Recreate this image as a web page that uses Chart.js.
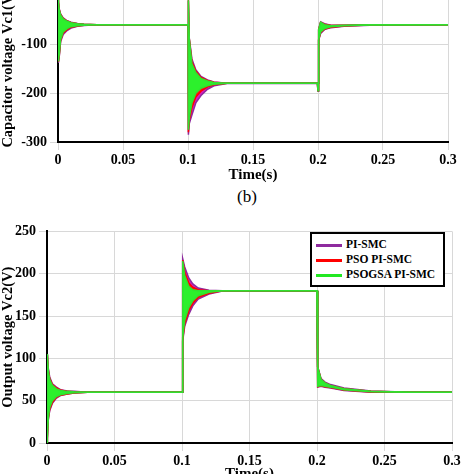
<!DOCTYPE html>
<html><head><meta charset="utf-8">
<script src="https://cdn.jsdelivr.net/npm/chart.js"></script>
<style>
body{margin:0;width:474px;height:474px;overflow:hidden;background:#fff;position:relative;font-family:"Liberation Serif",serif}
canvas{position:absolute;left:0}
#legend{position:absolute;left:310px;top:232px;width:131px;border:2px solid #000;background:#fff;font-weight:bold;font-size:11.5px;padding:3px 0}
#legend div{height:15px;line-height:15px;white-space:nowrap}
#legend span{display:inline-block;width:26px;height:3px;vertical-align:middle;margin:0 4px 0 4px}
#b{position:absolute;left:0;width:494px;text-align:center;top:187px;font-size:17px}
</style></head><body>
<canvas id="c1" width="474" height="200" style="top:-16px;width:474px;height:200px"></canvas>
<canvas id="c2" width="474" height="263" style="top:220px;width:474px;height:263px"></canvas>
<div id="b">(b)</div>
<div id="legend">
<div><span style="background:#8e2a9e"></span>PI-SMC</div>
<div><span style="background:#ff0000"></span>PSO PI-SMC</div>
<div><span style="background:#22e822"></span>PSOGSA PI-SMC</div>
</div>
<script>
const seriesNames=["PI-SMC","PSO PI-SMC","PSOGSA PI-SMC"];
const xTickLabels=["0","0.05","0.1","0.15","0.2","0.25","0.3"];
// top chart (capacitor voltage)
const tA=[0,0.0003,0.001,0.002,0.004,0.007,0.01,0.015,0.02,0.03,0.0995,0.1,0.1003,0.101,0.103,0.106,0.11,0.115,0.12,0.13,0.1995,0.2,0.2005,0.202,0.205,0.21,0.22,0.24,0.3];
const aPurpleUp=[0,-12,-28,-38,-46,-52,-55,-57.5,-59,-60,-60,-60,-10,-88,-130,-152,-166,-173,-177,-180,-180,-180,-70,-54,-58,-61,-61,-60,-60];
const aPurpleLo=[0,-138,-125,-95,-80,-72,-67,-63,-61.5,-60,-60,-60,-285,-262,-245,-220,-205,-192,-185,-180.5,-180,-196,-92,-78,-70,-66,-63,-61,-60];
const aRedUp=[0,-14,-29,-39,-47,-52.5,-55.5,-58,-59,-60,-60,-60,-10,-89,-136,-155,-168,-174,-177.5,-180,-180,-180,-70,-55,-59,-61.5,-61,-60,-60];
const aRedLo=[0,-136,-122,-92,-77,-70,-65,-62.5,-61,-60,-60,-60,-280,-255,-230,-208,-196,-187,-183,-180,-180,-195,-91,-76,-69,-65,-62.5,-60.5,-60];
const aGreenUp=[0,-15,-30,-40,-48,-53,-56,-58,-59,-60,-60,-60,-10,-90,-140,-158,-170,-175,-178,-180,-180,-180,-70,-55,-60,-62,-61,-60,-60];
const aGreenLo=[0,-135,-120,-90,-75,-68,-64,-62,-61,-60,-60,-60,-275,-250,-220,-200,-190,-185,-182,-180,-180,-195,-90,-75,-68,-64,-62,-60.5,-60];
// bottom chart (output voltage)
const tB=[0,0.0003,0.001,0.002,0.004,0.007,0.01,0.015,0.02,0.03,0.0995,0.1,0.1005,0.102,0.105,0.108,0.112,0.12,0.13,0.1995,0.2,0.2005,0.203,0.206,0.21,0.22,0.24,0.27,0.3];
const bPurpleUp=[0,105,88,78,70,66,63,61.5,61,60,60,60,218,208,195,188,183,180.5,180,180,180,90,76,72,69,65,61.5,60,60];
const bPurpleLo=[0,0,28,38,47,53,56,58,59,60,60,60,120,138,152,162,170,176,179.5,180,180,66,67,66,65,62,60,60,60];
const bRedUp=[0,104,86,76,69,65,62.5,61,60.5,60,60,60,216,202,189,184,181,180,180,180,180,90,75,71,68,64,61,60,60];
const bRedLo=[0,0,29,40,48,54,56.5,58,59,60,60,60,122,141,156,165,172,177,180,180,180,66.5,67.5,66.5,65.5,62.5,60.2,60,60];
const bGreenUp=[0,105,85,75,68,64,62,61,60.5,60,60,60,215,198,185,181,180,180,180,180,180,90,75,71,68,64,61,60,60];
const bGreenLo=[0,0,30,42,50,55,57,58.5,59.5,60,60,60,125,145,160,168,174,178,180,180,180,67,68,67,66,63,60.5,60,60];

const fills=["#d81cc0","#ff1010","#2cf02c"];
const lineCol=["#8e2a9e","#ff0000","#30e030"];
function band(t,up,lo,i){
  const pts=a=>t.map((x,k)=>({x,y:a[k]}));
  const ord=2-i;
  return [
    {label:seriesNames[i],data:pts(up),borderColor:lineCol[i],borderWidth:1.5,pointRadius:0,fill:false,order:ord},
    {label:seriesNames[i]+" low",data:pts(lo),borderColor:lineCol[i],borderWidth:1.5,pointRadius:0,fill:{target:'-1'},backgroundColor:fills[i],order:ord}
  ];
}
const font={family:"Liberation Serif",weight:"bold",size:14};
function opts(ymin,ymax,ytitle,yW,xH,pad){
  return {responsive:false,animation:false,
    layout:{padding:pad},
    plugins:{legend:{display:false},tooltip:{enabled:false}},
    elements:{line:{tension:0}},
    scales:{
      x:{type:'linear',min:0,max:0.3,
        ticks:{stepSize:0.05,font,color:'#000',maxRotation:0,padding:2,callback:(v)=>{const i=Math.round(v/0.05);return Math.abs(v-i*0.05)<1e-9?xTickLabels[i]:''}},
        grid:{color:'#d8d8d8',lineWidth:1},border:{color:'#000',width:2},
        title:{display:true,text:'Time(s)',font:{family:"Liberation Serif",weight:"bold",size:15},color:'#000',padding:0},
        afterFit:s=>{s.height=xH}},
      y:{min:ymin,max:ymax,ticks:{stepSize:50,font,color:'#000'},
        grid:{color:'#d8d8d8',lineWidth:1},border:{color:'#000',width:2},
        title:{display:true,text:ytitle,font:{family:"Liberation Serif",weight:"bold",size:14.5},color:'#000',padding:0},
        afterFit:s=>{s.width=yW}}
    }};
}
const o1=opts(-300,0,'Capacitor voltage Vc1(V)',58,42,{top:4,right:26,left:0,bottom:0});
o1.scales.y.ticks.stepSize=100;
new Chart(document.getElementById('c1'),{type:'line',
  data:{datasets:[...band(tA,aPurpleUp,aPurpleLo,0),...band(tA,aRedUp,aRedLo,1),...band(tA,aGreenUp,aGreenLo,2)]},options:o1});
const o2=opts(0,250,'Output voltage Vc2(V)',47,40,{top:10,right:22,left:0,bottom:0});
new Chart(document.getElementById('c2'),{type:'line',
  data:{datasets:[...band(tB,bPurpleUp,bPurpleLo,0),...band(tB,bRedUp,bRedLo,1),...band(tB,bGreenUp,bGreenLo,2)]},options:o2});
</script></body></html>
